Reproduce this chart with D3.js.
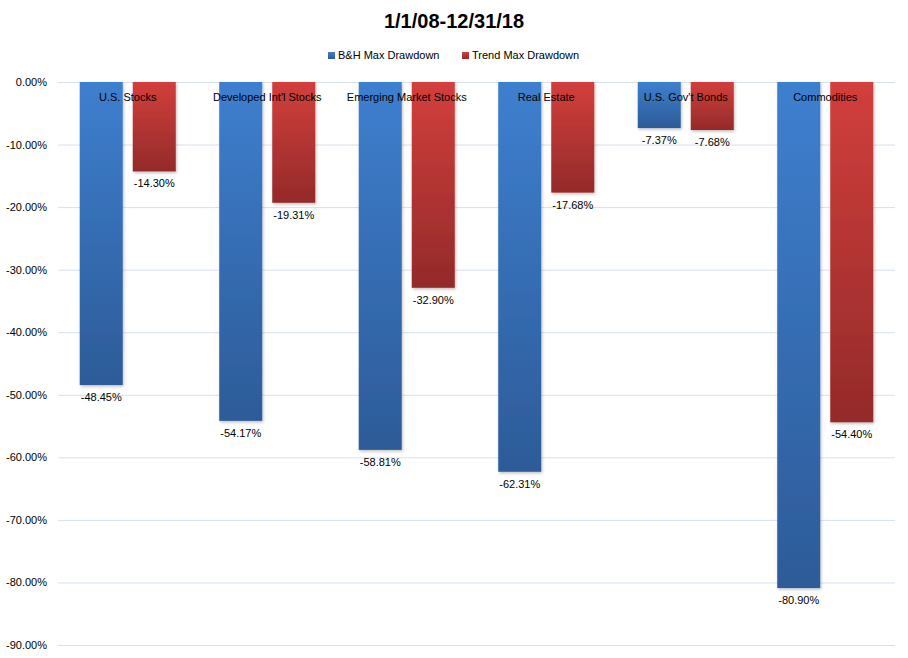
<html>
<head>
<meta charset="utf-8">
<script src="https://cdn.jsdelivr.net/npm/d3@7"></script>
<style>
  body { margin: 0; background: #fff; }
  text { font-family: "Liberation Sans", Arial, sans-serif; fill: #000; }
</style>
</head>
<body>
<div id="chart"></div>
<script>
// data
var categories = ["U.S. Stocks", "Developed Int'l Stocks", "Emerging Market Stocks", "Real Estate", "U.S. Gov't Bonds", "Commodities"];
var seriesNames = ["B&H Max Drawdown", "Trend Max Drawdown"];
var bhValues = [-48.45, -54.17, -58.81, -62.31, -7.37, -80.90];
var trendValues = [-14.30, -19.31, -32.90, -17.68, -7.68, -54.40];
var yTicks = [0, -10, -20, -30, -40, -50, -60, -70, -80, -90];

var width = 908, height = 658;
var plot = { left: 58, right: 895, top: 82, bottom: 645 };

// percent format with a plain hyphen
var pct = function (v) { return d3.format(".2f")(v).replace("\u2212", "-") + "%"; };

var svg = d3.select("#chart").append("svg")
    .attr("width", width)
    .attr("height", height);

var defs = svg.append("defs");
var grads = [
  { id: "gBlue", top: "#3e7fcf", bottom: "#2d5b98" },
  { id: "gRed", top: "#d23f3c", bottom: "#942a2a" }
];
grads.forEach(function (g) {
  var lg = defs.append("linearGradient").attr("id", g.id)
      .attr("x1", 0).attr("y1", 0).attr("x2", 0).attr("y2", 1);
  lg.append("stop").attr("offset", "0%").attr("stop-color", g.top);
  lg.append("stop").attr("offset", "100%").attr("stop-color", g.bottom);
});
var shadow = defs.append("filter").attr("id", "shadow")
    .attr("x", "-20%").attr("y", "-5%").attr("width", "140%").attr("height", "115%");
shadow.append("feDropShadow").attr("dx", 1).attr("dy", 1.5).attr("stdDeviation", 1.5)
    .attr("flood-color", "#000").attr("flood-opacity", 0.25);

var x0 = d3.scaleBand().domain(categories).range([plot.left, plot.right]).padding(0);
var x1 = d3.scaleBand().domain(seriesNames).range([0, x0.bandwidth()])
    .paddingInner(10 / 53).paddingOuter(0.41);
var y = d3.scaleLinear().domain([0, -90]).range([plot.top, plot.bottom]);

// title
svg.append("text")
    .attr("x", width / 2).attr("y", 28)
    .attr("text-anchor", "middle")
    .style("font-size", "20px").style("font-weight", "bold")
    .text("1/1/08-12/31/18");

// legend
var legendItems = [
  { name: seriesNames[0], fill: "url(#gBlue)", x: 328 },
  { name: seriesNames[1], fill: "url(#gRed)", x: 462 }
];
var lg = svg.selectAll(".legend").data(legendItems).enter().append("g")
    .attr("transform", function (d) { return "translate(" + d.x + ",0)"; });
lg.append("rect").attr("x", 0).attr("y", 52).attr("width", 7).attr("height", 7)
    .attr("fill", function (d) { return d.fill; });
lg.append("text").attr("x", 10).attr("y", 59)
    .style("font-size", "11px")
    .text(function (d) { return d.name; });

// gridlines + y labels
svg.selectAll(".grid").data(yTicks).enter().append("line")
    .attr("x1", plot.left).attr("x2", plot.right)
    .attr("y1", function (d) { return y(d) + 0.5; })
    .attr("y2", function (d) { return y(d) + 0.5; })
    .attr("stroke", "#d6e0ee").attr("stroke-width", 1);

svg.selectAll(".ylab").data(yTicks).enter().append("text")
    .attr("x", 47).attr("y", function (d) { return y(d) + 4; })
    .attr("text-anchor", "end")
    .style("font-size", "11px")
    .text(function (d) { return pct(d); });

// bars
var rows = categories.map(function (c, i) {
  return [
    { cat: c, series: seriesNames[0], value: bhValues[i], fill: "url(#gBlue)" },
    { cat: c, series: seriesNames[1], value: trendValues[i], fill: "url(#gRed)" }
  ];
});

var groups = svg.selectAll(".cat").data(rows).enter().append("g")
    .attr("transform", function (d) { return "translate(" + x0(d[0].cat) + ",0)"; });

groups.selectAll("rect").data(function (d) { return d; }).enter().append("rect")
    .attr("x", function (d) { return x1(d.series); })
    .attr("y", y(0))
    .attr("width", x1.bandwidth())
    .attr("height", function (d) { return y(d.value) - y(0); })
    .attr("fill", function (d) { return d.fill; })
    .attr("filter", "url(#shadow)");

groups.selectAll(".val").data(function (d) { return d; }).enter().append("text")
    .attr("x", function (d) { return x1(d.series) + x1.bandwidth() / 2; })
    .attr("y", function (d) { return y(d.value) + 16; })
    .attr("text-anchor", "middle")
    .style("font-size", "11px")
    .text(function (d) { return pct(d.value); });

// category labels on top of bars
svg.selectAll(".catlab").data(categories).enter().append("text")
    .attr("x", function (d) { return x0(d) + x0.bandwidth() / 2; })
    .attr("y", 101)
    .attr("text-anchor", "middle")
    .style("font-size", "11px")
    .text(function (d) { return d; });
</script>
</body>
</html>
